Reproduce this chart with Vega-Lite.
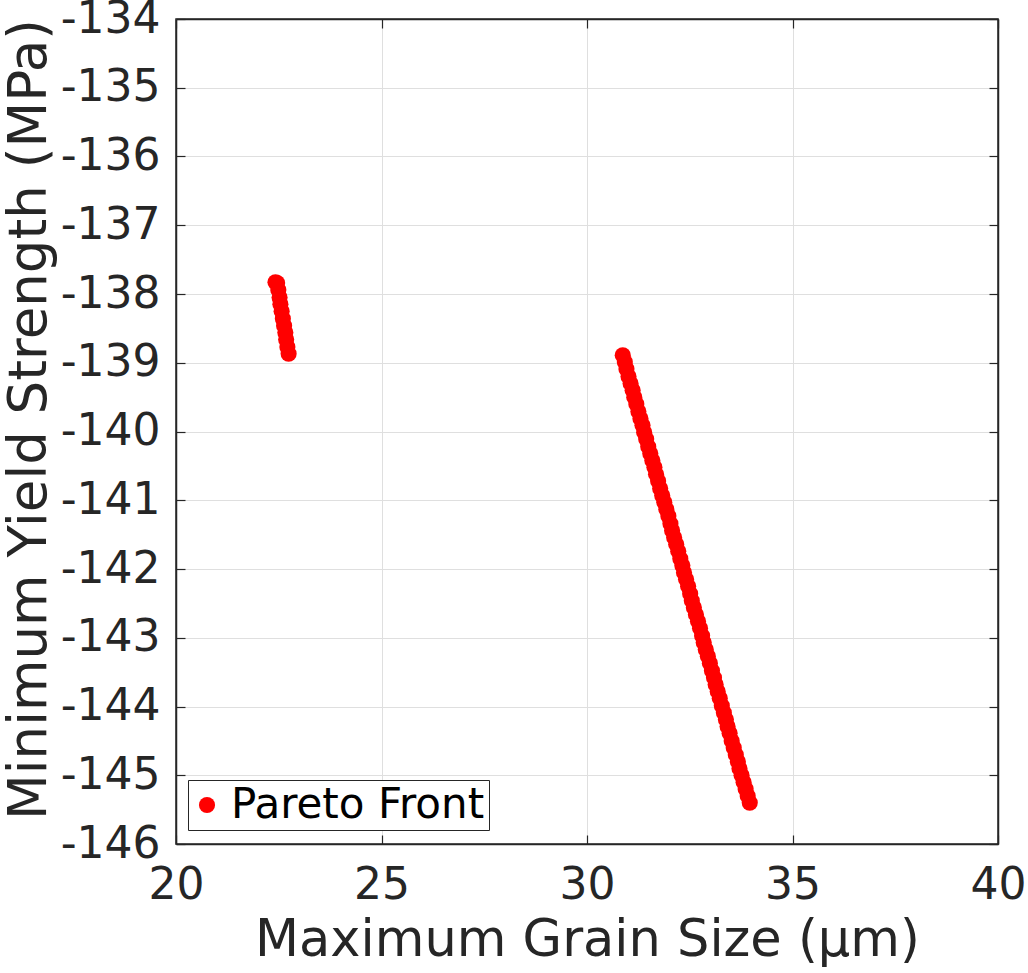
{
  "$schema": "https://vega.github.io/schema/vega-lite/v6.json",
  "width": 822,
  "height": 825,
  "autosize": {"type": "none"},
  "padding": {"left": 176, "top": 19, "right": 30, "bottom": 129},
  "background": "white",
  "data": {
    "values": [
      {"x": 22.42, "y": -137.83, "series": "Pareto Front"},
      {"x": 22.46, "y": -137.84, "series": "Pareto Front"},
      {"x": 22.49, "y": -137.94, "series": "Pareto Front"},
      {"x": 22.52, "y": -138.05, "series": "Pareto Front"},
      {"x": 22.54, "y": -138.15, "series": "Pareto Front"},
      {"x": 22.57, "y": -138.25, "series": "Pareto Front"},
      {"x": 22.60, "y": -138.36, "series": "Pareto Front"},
      {"x": 22.63, "y": -138.46, "series": "Pareto Front"},
      {"x": 22.66, "y": -138.56, "series": "Pareto Front"},
      {"x": 22.68, "y": -138.66, "series": "Pareto Front"},
      {"x": 22.71, "y": -138.77, "series": "Pareto Front"},
      {"x": 22.74, "y": -138.87, "series": "Pareto Front"},
      {"x": 30.87, "y": -138.89, "series": "Pareto Front"},
      {"x": 30.92, "y": -138.99, "series": "Pareto Front"},
      {"x": 30.96, "y": -139.09, "series": "Pareto Front"},
      {"x": 31.01, "y": -139.20, "series": "Pareto Front"},
      {"x": 31.06, "y": -139.30, "series": "Pareto Front"},
      {"x": 31.11, "y": -139.40, "series": "Pareto Front"},
      {"x": 31.15, "y": -139.50, "series": "Pareto Front"},
      {"x": 31.20, "y": -139.60, "series": "Pareto Front"},
      {"x": 31.25, "y": -139.71, "series": "Pareto Front"},
      {"x": 31.30, "y": -139.81, "series": "Pareto Front"},
      {"x": 31.35, "y": -139.91, "series": "Pareto Front"},
      {"x": 31.39, "y": -140.01, "series": "Pareto Front"},
      {"x": 31.44, "y": -140.11, "series": "Pareto Front"},
      {"x": 31.49, "y": -140.22, "series": "Pareto Front"},
      {"x": 31.54, "y": -140.32, "series": "Pareto Front"},
      {"x": 31.59, "y": -140.42, "series": "Pareto Front"},
      {"x": 31.64, "y": -140.52, "series": "Pareto Front"},
      {"x": 31.68, "y": -140.62, "series": "Pareto Front"},
      {"x": 31.73, "y": -140.72, "series": "Pareto Front"},
      {"x": 31.78, "y": -140.83, "series": "Pareto Front"},
      {"x": 31.83, "y": -140.93, "series": "Pareto Front"},
      {"x": 31.88, "y": -141.03, "series": "Pareto Front"},
      {"x": 31.93, "y": -141.13, "series": "Pareto Front"},
      {"x": 31.98, "y": -141.23, "series": "Pareto Front"},
      {"x": 32.03, "y": -141.34, "series": "Pareto Front"},
      {"x": 32.07, "y": -141.44, "series": "Pareto Front"},
      {"x": 32.12, "y": -141.54, "series": "Pareto Front"},
      {"x": 32.17, "y": -141.64, "series": "Pareto Front"},
      {"x": 32.22, "y": -141.74, "series": "Pareto Front"},
      {"x": 32.27, "y": -141.85, "series": "Pareto Front"},
      {"x": 32.32, "y": -141.95, "series": "Pareto Front"},
      {"x": 32.36, "y": -142.05, "series": "Pareto Front"},
      {"x": 32.41, "y": -142.15, "series": "Pareto Front"},
      {"x": 32.46, "y": -142.25, "series": "Pareto Front"},
      {"x": 32.51, "y": -142.36, "series": "Pareto Front"},
      {"x": 32.55, "y": -142.46, "series": "Pareto Front"},
      {"x": 32.60, "y": -142.56, "series": "Pareto Front"},
      {"x": 32.65, "y": -142.66, "series": "Pareto Front"},
      {"x": 32.70, "y": -142.76, "series": "Pareto Front"},
      {"x": 32.75, "y": -142.86, "series": "Pareto Front"},
      {"x": 32.80, "y": -142.97, "series": "Pareto Front"},
      {"x": 32.84, "y": -143.07, "series": "Pareto Front"},
      {"x": 32.89, "y": -143.17, "series": "Pareto Front"},
      {"x": 32.94, "y": -143.27, "series": "Pareto Front"},
      {"x": 32.99, "y": -143.37, "series": "Pareto Front"},
      {"x": 33.04, "y": -143.48, "series": "Pareto Front"},
      {"x": 33.09, "y": -143.58, "series": "Pareto Front"},
      {"x": 33.13, "y": -143.68, "series": "Pareto Front"},
      {"x": 33.18, "y": -143.78, "series": "Pareto Front"},
      {"x": 33.23, "y": -143.88, "series": "Pareto Front"},
      {"x": 33.28, "y": -143.99, "series": "Pareto Front"},
      {"x": 33.33, "y": -144.09, "series": "Pareto Front"},
      {"x": 33.38, "y": -144.19, "series": "Pareto Front"},
      {"x": 33.42, "y": -144.29, "series": "Pareto Front"},
      {"x": 33.47, "y": -144.39, "series": "Pareto Front"},
      {"x": 33.52, "y": -144.50, "series": "Pareto Front"},
      {"x": 33.57, "y": -144.60, "series": "Pareto Front"},
      {"x": 33.62, "y": -144.70, "series": "Pareto Front"},
      {"x": 33.67, "y": -144.80, "series": "Pareto Front"},
      {"x": 33.71, "y": -144.90, "series": "Pareto Front"},
      {"x": 33.76, "y": -145.00, "series": "Pareto Front"},
      {"x": 33.81, "y": -145.10, "series": "Pareto Front"},
      {"x": 33.86, "y": -145.20, "series": "Pareto Front"},
      {"x": 33.91, "y": -145.30, "series": "Pareto Front"},
      {"x": 33.96, "y": -145.40, "series": "Pareto Front"}
    ]
  },
  "layer": [
    {
      "mark": {"type": "point", "shape": "circle", "filled": true, "opacity": 1, "size": 260},
      "encoding": {
        "x": {
          "field": "x",
          "type": "quantitative",
          "scale": {"domain": [20, 40], "nice": false, "zero": false},
          "axis": {"orient": "bottom", "values": [20, 25, 30, 35, 40], "title": "Maximum Grain Size (μm)", "titleFontSize": 51, "labelPadding": 28, "titlePadding": 8}
        },
        "y": {
          "field": "y",
          "type": "quantitative",
          "scale": {"domain": [-146, -134], "nice": false, "zero": false},
          "axis": {"orient": "left", "values": [-146, -145, -144, -143, -142, -141, -140, -139, -138, -137, -136, -135, -134], "labelExpr": "'' + datum.value", "title": "Minimum Yield Strength (MPa)", "titleFontSize": 53, "titleY": 400, "labelPadding": 25, "titlePadding": 4}
        },
        "color": {
          "field": "series",
          "type": "nominal",
          "scale": {"range": ["#ff0000"]},
          "legend": {
            "title": null,
            "orient": "none",
            "legendX": 12,
            "legendY": 761,
            "labelFontSize": 42,
            "labelColor": "#000000",
            "labelFont": "DejaVu Sans",
            "labelLimit": 0,
            "symbolSize": 260,
            "symbolType": "circle",
            "symbolOffset": -6,
            "strokeColor": "#262626",
            "fillColor": "white",
            "padding": 4,
            "labelOffset": 3
          }
        }
      }
    },
    {
      "mark": {"type": "point", "opacity": 0},
      "encoding": {
        "x": {
          "field": "x",
          "type": "quantitative",
          "axis": {"orient": "top", "values": [20, 25, 30, 35, 40], "labels": false, "title": null, "grid": false}
        },
        "y": {
          "field": "y",
          "type": "quantitative",
          "axis": {"orient": "right", "values": [-146, -145, -144, -143, -142, -141, -140, -139, -138, -137, -136, -135, -134], "labels": false, "title": null, "grid": false}
        }
      }
    }
  ],
  "resolve": {"axis": {"x": "independent", "y": "independent"}},
  "config": {
    "view": {"stroke": "#262626", "strokeWidth": 1.5},
    "font": "DejaVu Sans",
    "axis": {
      "labelFont": "DejaVu Sans",
      "titleFont": "DejaVu Sans",
      "labelFontSize": 44,
      "titleFontSize": 50,
      "titleFontWeight": "normal",
      "labelColor": "#262626",
      "titleColor": "#262626",
      "domainColor": "#262626",
      "domainWidth": 1.5,
      "tickColor": "#262626",
      "tickSize": -9,
      "tickWidth": 1.2,
      "gridColor": "#dfdfdf",
      "gridWidth": 1,
      "labelFlush": false,
      "labelOverlap": false
    }
  }
}
